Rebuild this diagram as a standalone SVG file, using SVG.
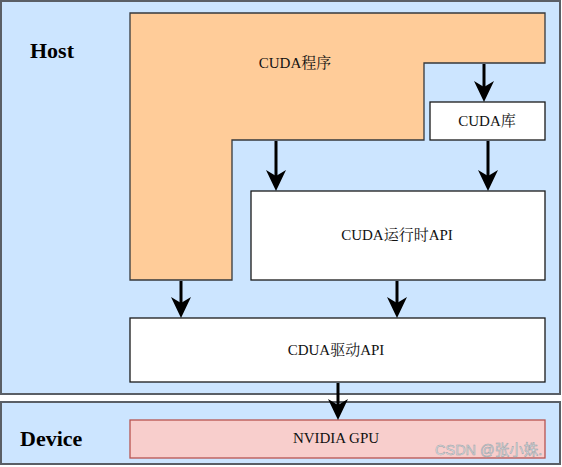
<svg xmlns="http://www.w3.org/2000/svg" width="562" height="467" viewBox="0 0 562 467">
<style>
.region{fill:#cce5ff;stroke:#5a5f66;stroke-width:2}
.box{fill:#ffffff;stroke:#1a1a1a;stroke-width:1.3}
.prog{fill:#ffcc99;stroke:#36393d;stroke-width:1.3}
.gpu{fill:#f8cecc;stroke:#b85450;stroke-width:1.3}
.lbl{font-family:"Liberation Serif","Noto Serif CJK SC","Noto Sans CJK SC",serif;font-size:15px;fill:#111;text-anchor:middle}
.title{font-family:"Liberation Serif",serif;font-size:22px;font-weight:bold;fill:#000}
.wm{font-family:"Liberation Sans","Noto Sans CJK SC",sans-serif;font-size:14.5px;fill:#dfe2e5;stroke:#9aa0a6;stroke-width:0.5}
.edge{stroke:#000;stroke-width:3;fill:none}
.head{fill:#000}
</style>
<g id="host">
<rect class="region" x="1" y="1" width="559" height="393"/>
<text class="title" x="30" y="58">Host</text>
</g>
<g id="device">
<rect class="region" x="1" y="402" width="559" height="62"/>
<text class="title" x="20" y="446">Device</text>
</g>
<g id="cuda-program">
<path class="prog" d="M130,13 H545 V63 H424 V140 H232 V280 H130 Z"/>
<text class="lbl" x="295" y="68">CUDA程序</text>
</g>
<g id="cuda-lib">
<rect class="box" x="430" y="102" width="115" height="38"/>
<text class="lbl" x="487" y="126">CUDA库</text>
</g>
<g id="cuda-runtime">
<rect class="box" x="251" y="191" width="294" height="89"/>
<text class="lbl" x="397" y="240">CUDA运行时API</text>
</g>
<g id="cuda-driver">
<rect class="box" x="130" y="318" width="415" height="64"/>
<text class="lbl" x="336" y="355">CDUA驱动API</text>
</g>
<g id="gpu">
<rect class="gpu" x="130" y="420" width="415" height="38"/>
<text class="lbl" x="336" y="443">NVIDIA GPU</text>
</g>
<g id="connectors">
<path class="edge" d="M484,64 V88"/>
<path class="head" d="M484,102 L474,81 L484,87 L494,81 Z"/>
<path class="edge" d="M276,141 V176"/>
<path class="head" d="M276,191 L266,170 L276,176 L286,170 Z"/>
<path class="edge" d="M488,141 V176"/>
<path class="head" d="M488,191 L478,170 L488,176 L498,170 Z"/>
<path class="edge" d="M181,281 V303"/>
<path class="head" d="M181,318 L171,297 L181,303 L191,297 Z"/>
<path class="edge" d="M397,281 V303"/>
<path class="head" d="M397,318 L387,297 L397,303 L407,297 Z"/>
<path class="edge" d="M338,383 V405"/>
<path class="head" d="M338,420 L328,399 L338,405 L348,399 Z"/>
</g>
<text class="wm" x="435" y="455">CSDN @张小姝.</text>
</svg>
